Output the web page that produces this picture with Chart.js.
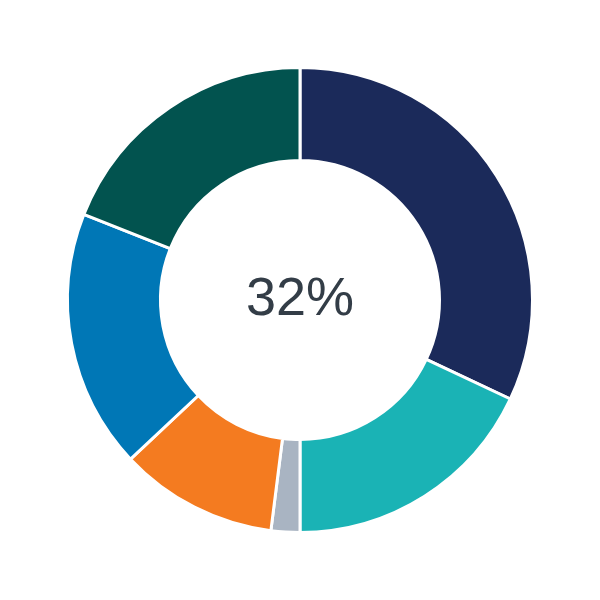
<!DOCTYPE html>
<html>
<head>
<meta charset="utf-8">
<script src="https://cdn.jsdelivr.net/npm/chart.js@4/dist/chart.umd.min.js"></script>
<style>
    html, body { margin: 0; padding: 0; background: #fff; }
    #wrap { position: relative; width: 600px; height: 600px; }
</style>
</head>
<body>
<div id="wrap"><canvas id="chart" width="600" height="600"></canvas></div>
<script>
const labels = ['A', 'B', 'C', 'D', 'E', 'F'];
const values = [32, 18, 2, 11, 18, 19];
const colors = ['#1b2a5a', '#1ab3b5', '#a9b4c2', '#f47b20', '#0077b6', '#02534f'];
const centerText = '32%';

const centerLabel = {
    id: 'centerLabel',
    afterDraw(chart) {
        const meta = chart.getDatasetMeta(0).data[0];
        const ctx = chart.ctx;
        ctx.save();
        ctx.font = '54px "Liberation Sans", Arial, sans-serif';
        ctx.fillStyle = '#333d47';
        ctx.textAlign = 'center';
        ctx.textBaseline = 'middle';
        ctx.fillText(centerText, meta.x, meta.y);
        ctx.restore();
    }
};

new Chart(document.getElementById('chart').getContext('2d'), {
    type: 'doughnut',
    data: {
        labels: labels,
        datasets: [{
            data: values,
            backgroundColor: colors,
            borderColor: '#ffffff',
            borderWidth: 3
        }]
    },
    options: {
        responsive: false,
        animation: false,
        cutout: '60%',
        layout: { padding: 66 },
        plugins: {
            legend: { display: false },
            tooltip: { enabled: false }
        }
    },
    plugins: [centerLabel]
});
</script>
</body>
</html>
